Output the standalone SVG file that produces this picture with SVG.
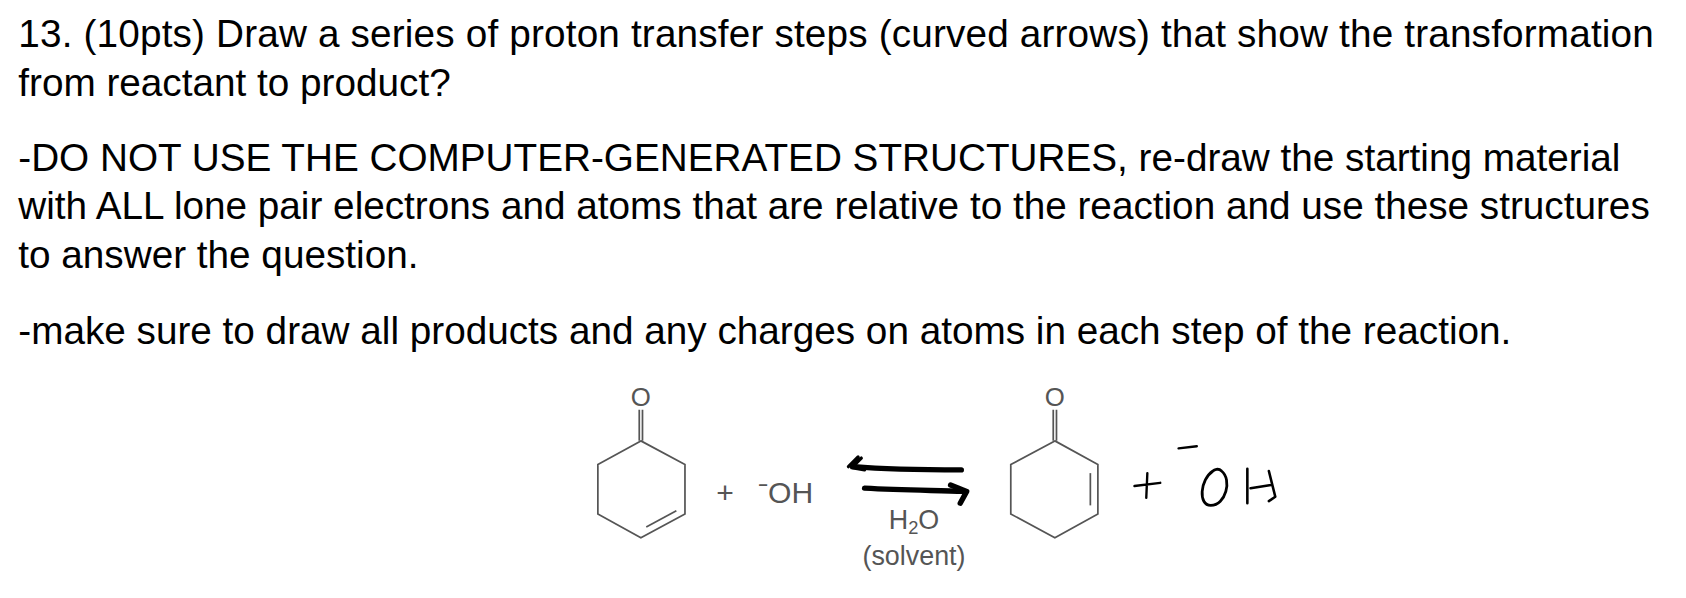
<svg xmlns="http://www.w3.org/2000/svg" width="1686" height="598" viewBox="0 0 1686 598">
<style>
.q{font-family:"Liberation Sans",Arial,sans-serif;font-size:36px;fill:#000}
.c{font-family:"Liberation Sans",Arial,sans-serif;fill:#555}
.b{stroke:#555;stroke-width:1.6;fill:none}
.h{stroke:#000;fill:none;stroke-linecap:round;stroke-linejoin:round}
</style>
<rect width="1686" height="598" fill="#fff"/>
<g transform="scale(1.0753)">
<g id="question">
<text class="q" x="17" y="44" textLength="1521">13. (10pts) Draw a series of proton transfer steps (curved arrows) that show the transformation</text>
<text class="q" x="17" y="89">from reactant to product?</text>
<text class="q" x="17" y="159">-DO NOT USE THE COMPUTER-GENERATED STRUCTURES, re-draw the starting material</text>
<text class="q" x="17" y="204">with ALL lone pair electrons and atoms that are relative to the reaction and use these structures</text>
<text class="q" x="17" y="249">to answer the question.</text>
<text class="q" x="17" y="320">-make sure to draw all products and any charges on atoms in each step of the reaction.</text>
</g>
<g id="reactant">
<text class="c" x="596" y="378" font-size="24" text-anchor="middle">O</text>
<path class="b" d="M594.5 381V410M597.5 381V410"/>
<path class="b" d="M596 410L637 432V478L596 500L556 478V432Z"/>
<path class="b" d="M629 475L601 490"/>
</g>
<g id="hydroxide">
<text class="c" x="666" y="468" font-size="28">+</text>
<text class="c" x="705" y="468" font-size="28">⁻OH</text>
</g>
<g id="product">
<text class="c" x="981" y="378" font-size="24" text-anchor="middle">O</text>
<path class="b" d="M979.5 381V410M982.5 381V410"/>
<path class="b" d="M981 410L1021 432V478L981 500L940 478V432Z"/>
<path class="b" d="M1014 440V470"/>
</g>
<g id="connectors">
<path class="h" stroke-width="5" d="M794 434C830 437 860 437 894 437"/>
<path class="h" stroke-width="3" d="M801 426L792 435L804 437M798 425L789 434"/>
<path class="h" stroke-width="5" d="M804 454C840 456 870 456 896 457"/>
<path class="h" stroke-width="5" d="M884 451L899 457L893 468"/>
</g>
<g id="conditions">
<text class="c" x="850" y="492" font-size="25" text-anchor="middle">H<tspan font-size="17" dy="5">2</tspan><tspan dy="-5">O</tspan></text>
<text class="c" x="850" y="525" font-size="25" text-anchor="middle">(solvent)</text>
</g>
<g id="handwritten">
<path class="h" stroke-width="2.2" d="M1055 452L1079 449M1067 440L1066 463"/>
<path class="h" stroke-width="2.2" d="M1096 417L1113 415"/>
<path class="h" stroke-width="2.6" d="M1128 438C1116 446 1114 470 1126 470C1140 470 1146 446 1136 438C1133 435 1129 437 1128 438"/>
<path class="h" stroke-width="2.4" d="M1160 436V468M1163 454L1182 451M1180 438L1186 462L1180 466"/>
</g>
</g>
</svg>
